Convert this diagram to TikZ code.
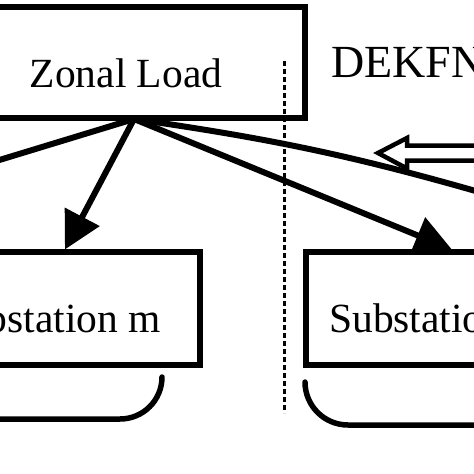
\documentclass[tikz,border=0pt]{standalone}
\usepackage{fontspec}
\setmainfont{Liberation Serif}
\usetikzlibrary{arrows.meta,calc}
\begin{document}
\begin{tikzpicture}[x=1pt,y=-1pt,
  box/.style={draw, line width=6pt, rectangle, outer sep=0pt, inner sep=0pt},
  lbl/.style={inner sep=0pt, font=\fontsize{41.5}{48}\selectfont},
  biglbl/.style={inner sep=0pt, font=\fontsize{46}{54}\selectfont},
  conn/.style={line width=6pt, line cap=round},
  tipstyle/.style={-{Triangle[length=37pt,width=38pt]}},
  dashline/.style={line width=3pt, dash pattern=on 5pt off 3pt},
  brk/.style={line width=5.5pt, line cap=round},
  hollow/.style={line width=4.5pt, line join=miter}]
\useasboundingbox (0,0) rectangle (474,474);
\clip (0,0) rectangle (474,474);
\fill[white] (0,0) rectangle (474,474);
% boxes
\node[box, minimum width=360pt, minimum height=111.5pt] (zl) at (125,62.25) {};
\node[box, minimum width=293pt, minimum height=113pt] (subm) at (53.5,308.5) {};
\node[box, minimum width=300pt, minimum height=113pt] (subn) at (455.5,308.5) {};
% labels
\node[lbl, anchor=base] (zltext) at (126,87) {Zonal Load};
\node[lbl, anchor=base east] (smtext) at (161,332) {Substation m};
\node[lbl, anchor=base west] (sntext) at (329,332) {Substation n};
\node[biglbl, anchor=base west] (dek) at (331,77) {DEKFN};
% connectors
\coordinate (apex) at ($(zl.south)+(9,1)$);
\coordinate (leftend) at (-40,172);
\coordinate (farright) at (500,198);
\coordinate (tipm) at ($(subm.north west)!0.539!(subm.north east)+(0,-2.5)$);
\coordinate (tipn) at ($(subn.north west)!0.488!(subn.north east)+(0,-2.5)$);
\draw[conn] (apex) -- (leftend);
\draw[conn] (apex) to[bend left=4] (farright);
\draw[conn, tipstyle] (apex) -- (tipm);
\draw[conn, tipstyle] (apex) -- (tipn);
% dashed separator
\draw[dashline] (284,61) -- (284,413);
% hollow double arrow
\draw[hollow] (490,145.5) -- (407,145.5) -- (407,138) -- (378,153) -- (407,168.5) -- (407,160.5) -- (490,160.5);
% brackets
\draw[brk] (162,377) arc[start angle=0, end angle=90, radius=42] -- (-10,419);
\draw[brk] (305,382) arc[start angle=180, end angle=90, radius=43] -- (490,425);
\end{tikzpicture}
\end{document}
